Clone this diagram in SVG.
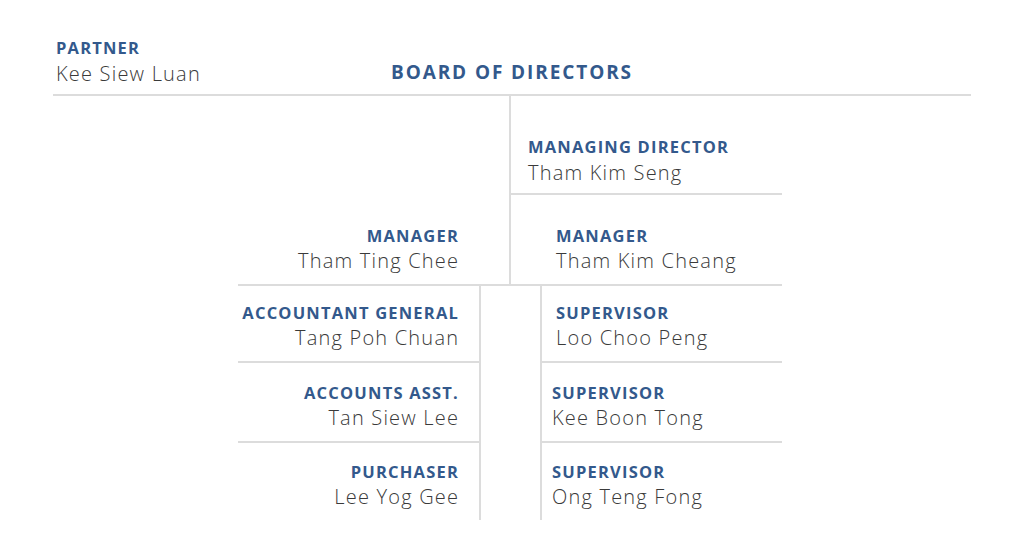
<svg xmlns="http://www.w3.org/2000/svg" width="1024" height="544" viewBox="0 0 1024 544">
<style>
text{font-family:"Open Sans","Liberation Sans",sans-serif}
.t{font-weight:700;font-size:16.5px;fill:#33598c;letter-spacing:1.2px}
.n{font-weight:300;font-size:20px;fill:#3a3a3a;letter-spacing:1.2px}
.r{text-anchor:end}
.c{text-anchor:middle}
.b{font-size:19px;letter-spacing:1.9px}
.l{stroke:#dcdcdc;stroke-width:2;fill:none}
</style>
<rect width="1024" height="544" fill="#ffffff"/>
<g id="connectors">
<path class="l" d="M53 95H971"/>
<path class="l" d="M510 95V285"/>
<path class="l" d="M510 194H782"/>
<path class="l" d="M238 285H782"/>
<path class="l" d="M480 285V520"/>
<path class="l" d="M541 285V520"/>
<path class="l" d="M238 362H480M541 362H782"/>
<path class="l" d="M238 442H480M541 442H782"/>
</g>
<g id="partner"><text class="t" x="56" y="54">PARTNER</text><text class="n" x="56" y="80.5">Kee Siew Luan</text></g>
<g id="board"><text class="t c b" x="512" y="79">BOARD OF DIRECTORS</text></g>
<g id="md"><text class="t" x="528" y="153">MANAGING DIRECTOR</text><text class="n" x="528" y="179.5">Tham Kim Seng</text></g>
<g id="mgr1"><text class="t r" x="459" y="241.5">MANAGER</text><text class="n r" x="459.2" y="268">Tham Ting Chee</text></g>
<g id="mgr2"><text class="t" x="556" y="241.5">MANAGER</text><text class="n" x="556" y="268">Tham Kim Cheang</text></g>
<g id="acc"><text class="t r" x="459" y="318.5">ACCOUNTANT GENERAL</text><text class="n r" x="459.2" y="345">Tang Poh Chuan</text></g>
<g id="sup1"><text class="t" x="556" y="318.5">SUPERVISOR</text><text class="n" x="556" y="345">Loo Choo Peng</text></g>
<g id="asst"><text class="t r" x="459" y="398.5">ACCOUNTS ASST.</text><text class="n r" x="459.2" y="425">Tan Siew Lee</text></g>
<g id="sup2"><text class="t" x="552" y="398.5">SUPERVISOR</text><text class="n" x="552" y="425">Kee Boon Tong</text></g>
<g id="purch"><text class="t r" x="459" y="477.5">PURCHASER</text><text class="n r" x="459.2" y="504">Lee Yog Gee</text></g>
<g id="sup3"><text class="t" x="552" y="477.5">SUPERVISOR</text><text class="n" x="552" y="504">Ong Teng Fong</text></g>
</svg>
